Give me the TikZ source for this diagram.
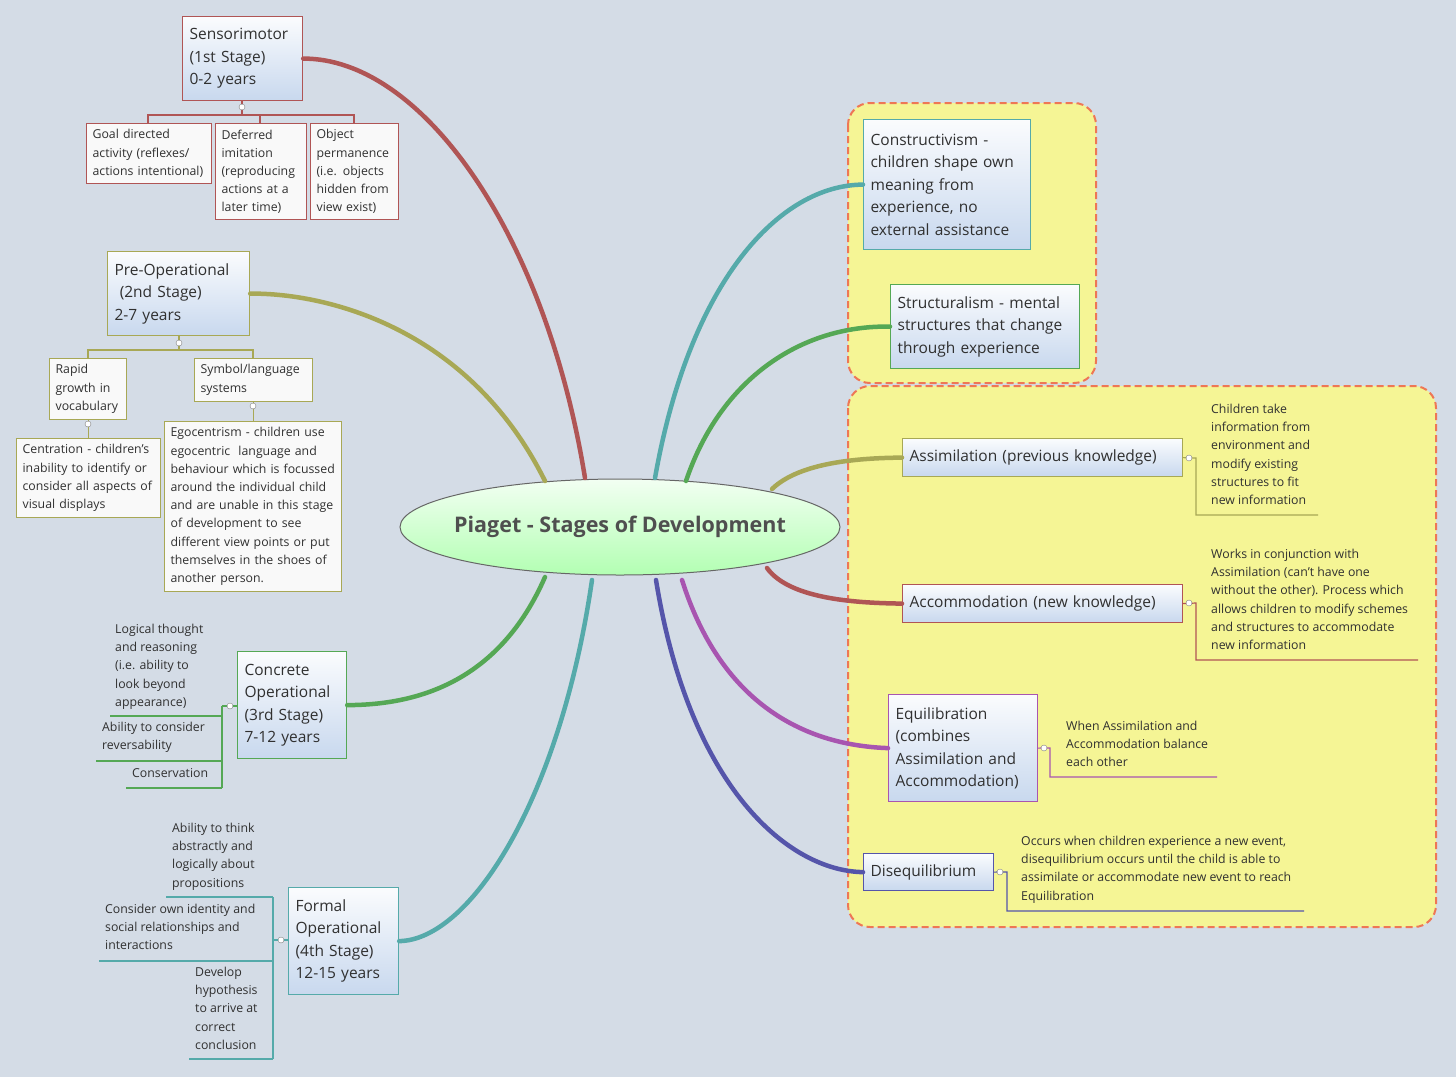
\documentclass[tikz,border=0pt]{standalone}
\usepackage{fontspec}
\setmainfont{Open Sans}
\usetikzlibrary{shapes.geometric}
\definecolor{bgc}{HTML}{D4DCE6}
\definecolor{cred}{HTML}{B05555}
\definecolor{colive}{HTML}{A8A855}
\definecolor{cgreen}{HTML}{55A855}
\definecolor{cteal}{HTML}{55AAAA}
\definecolor{cpurple}{HTML}{A855B0}
\definecolor{cblue}{HTML}{5555AA}
\definecolor{cloudf}{HTML}{F5F595}
\definecolor{cloudb}{HTML}{EE7755}
\definecolor{txt}{HTML}{303030}
\definecolor{boxb}{HTML}{C8D8EE}
\tikzset{
  big/.style={draw, line width=1.2pt, top color=white!92!boxb, bottom color=boxb, anchor=north west, align=left, inner sep=7pt, font=\fontsize{15.5}{22.5}\selectfont, text=txt},
  sm/.style={draw, line width=1.2pt, fill=white!95!gray, anchor=north west, align=left, inner sep=6pt, font=\fontsize{12.3}{18.2}\selectfont, text=txt},
  leaf/.style={anchor=north west, align=left, inner sep=0pt, font=\fontsize{12.3}{18.2}\selectfont, text=txt},
  branch/.style={line width=4.5pt, line cap=round},
  thin/.style={line width=1.2pt},
  knob/.style={circle, draw=gray, fill=white, inner sep=0pt, minimum size=6pt},
  cloud/.style={draw=cloudb, fill=cloudf, dashed, line width=2pt, dash pattern=on 7pt off 4pt, rounded corners=22pt}
}
\begin{document}
\begin{tikzpicture}[x=1pt,y=-1pt]
\fill[bgc] (0,0) rectangle (1456,1077);
\useasboundingbox (0,0) rectangle (1456,1077);
% clouds
\draw[cloud] (848,103) rectangle (1096,383);
\draw[cloud] (848,386) rectangle (1436,927);

% center
\node[ellipse, draw=gray!80!black, line width=1pt, top color=green!5!white, bottom color=green!30!white, minimum width=440pt, minimum height=96pt, inner sep=0pt] (c) at (620,527) {};
\node[font=\fontsize{21.5}{26}\selectfont\bfseries, text=txt!85!white] (ct) at (c.center) {Piaget - Stages of Development};

\coordinate (cR) at (585,478); \coordinate (cO) at (545,481);
\coordinate (cG) at (545,577); \coordinate (cT) at (592,580);
\coordinate (rT) at (655,478); \coordinate (rG) at (686,481);
\coordinate (rO) at (772,489); \coordinate (rR) at (767,568);
\coordinate (rP) at (682,580); \coordinate (rB) at (656,580);

% left stages
\node[big, draw=cred, minimum width=120pt, minimum height=84pt, text width=106pt] (s1) at (182,16) {Sensorimotor\\(1st Stage)\\0-2 years};
\node[sm, draw=cred, minimum width=125pt, minimum height=59pt, text width=113pt] (s1a) at (86,123) {Goal directed\\activity (reflexes/\\actions intentional)};
\node[sm, draw=cred, minimum width=91pt, minimum height=95pt, text width=79pt] (s1b) at (215,123) {Deferred\\imitation\\(reproducing\\actions at a\\later time)};
\node[sm, draw=cred, minimum width=88pt, minimum height=95pt, text width=76pt] (s1c) at (310,123) {Object\\permanence\\(i.e. objects\\hidden from\\view exist)};
\draw[thin, cred] (242,100) -- (242,115); \draw[thin,cred] (148,123) -- (148,115) -- (354,115) -- (354,123);
\draw[thin,cred] (260,115)--(260,123);
\node[knob] at (242,107) {};

\node[big, draw=colive, minimum width=142pt, minimum height=84pt, text width=128pt] (s2) at (107,251) {Pre-Operational\\ \ (2nd Stage)\\2-7 years};
\node[sm, draw=colive, minimum width=77pt, minimum height=58pt, text width=65pt] (s2a) at (49,358) {Rapid\\growth in\\vocabulary};
\node[sm, draw=colive, minimum width=118pt, minimum height=40pt, text width=106pt] (s2b) at (194,358) {Symbol/language\\systems};
\node[sm, draw=colive, minimum width=144pt, minimum height=78pt, text width=132pt] (s2c) at (16,438) {Centration - children's\\inability to identify or\\consider all aspects of\\visual displays};
\node[sm, draw=colive, minimum width=177pt, minimum height=166pt, text width=175pt, inner xsep=1pt] (s2d) at (164,421) {\hspace*{5pt}Egocentrism - children use\\\hspace*{5pt}egocentric \ language and\\\hspace*{5pt}behaviour which is focussed\\\hspace*{5pt}around the individual child\\\hspace*{5pt}and are unable in this stage\\\hspace*{5pt}of development to see\\\hspace*{5pt}different view points or put\\\hspace*{5pt}themselves in the shoes of\\\hspace*{5pt}another person.};
\draw[thin,colive] (179,335)--(179,350); \draw[thin,colive] (88,358)--(88,350)--(253,350)--(253,358);
\node[knob] at (179,343) {};
\draw[thin,colive] (s2a.south) -- (s2c.north -| s2a.south); \node[knob] at (88,424) {};
\draw[thin,colive] (s2b.south) -- (s2d.north -| s2b.south); \node[knob] at (253,406) {};

\node[big, draw=cgreen, minimum width=109pt, minimum height=107pt, text width=95pt] (s3) at (237,651) {Concrete\\Operational\\(3rd Stage)\\7-12 years};
\node[leaf] (l31) at (115,624) {Logical thought\\and reasoning\\(i.e. ability to\\look beyond\\appearance)};
\node[leaf] (l32) at (102,722) {Ability to consider\\reversability};
\node[leaf] (l33) at (132,768) {Conservation};
\draw[thin,cgreen] (110,716)--(222,716); \draw[thin,cgreen] (96,761)--(222,761); \draw[thin,cgreen] (126,788)--(222,788);
\draw[thin,cgreen] (222,706)--(222,788); \draw[thin,cgreen] (222,706)--(s3.west|-222,706);
\node[knob] at (230,706) {};

\node[big, draw=cteal, minimum width=110pt, minimum height=107pt, text width=96pt] (s4) at (288,887) {Formal\\Operational\\(4th Stage)\\12-15 years};
\node[leaf] (l41) at (172,823) {Ability to think\\abstractly and\\logically about\\propositions};
\node[leaf] (l42) at (105,904) {Consider own identity and\\social relationships and\\interactions};
\node[leaf] (l43) at (195,967) {Develop\\hypothesis\\to arrive at\\correct\\conclusion};
\draw[thin,cteal] (166,897)--(273,897); \draw[thin,cteal] (99,961)--(273,961); \draw[thin,cteal] (189,1059)--(273,1059);
\draw[thin,cteal] (273,897)--(273,1059); \draw[thin,cteal] (273,940)--(s4.west|-273,940);
\node[knob] at (281,940) {};

% right
\node[big, draw=cteal, minimum width=167pt, minimum height=130pt, text width=153pt] (r1) at (863,119) {Constructivism -\\children shape own\\meaning from\\experience, no\\external assistance};
\node[big, draw=cgreen, minimum width=189pt, minimum height=84pt, text width=175pt] (r2) at (890,284) {Structuralism - mental\\structures that change\\through experience};
\node[big, draw=colive, minimum width=280pt, minimum height=38pt, text width=266pt] (r3) at (902,438) {Assimilation (previous knowledge)};
\node[big, draw=cred, minimum width=280pt, minimum height=38pt, text width=266pt] (r4) at (902,584) {Accommodation (new knowledge)};
\node[big, draw=cpurple, minimum width=149pt, minimum height=107pt, text width=135pt] (r5) at (888,694) {Equilibration\\(combines\\Assimilation and\\Accommodation)};
\node[big, draw=cblue, minimum width=130pt, minimum height=37pt, text width=116pt] (r6) at (863,853) {Disequilibrium};

\node[leaf] (t3) at (1211,404) {Children take\\information from\\environment and\\modify existing\\structures to fit\\new information};
\draw[thin,colive] (r3.east)--(1196,458)--(1196,515)--(1318,515); \node[knob] at (1189,458) {};
\node[leaf] (t4) at (1211,549) {Works in conjunction with\\Assimilation (can't have one\\without the other). Process which\\allows children to modify schemes\\and structures to accommodate\\new information};
\draw[thin,cred] (r4.east)--(1196,603)--(1196,660)--(1418,660); \node[knob] at (1189,603) {};
\node[leaf] (t5) at (1066,721) {When Assimilation and\\Accommodation balance\\each other};
\draw[thin,cpurple] (r5.east)--(1050,748)--(1050,777)--(1217,777); \node[knob] at (1044,748) {};
\node[leaf] (t6) at (1021,836) {Occurs when children experience a new event,\\disequilibrium occurs until the child is able to\\assimilate or accommodate new event to reach\\Equilibration};
\draw[thin,cblue] (r6.east)--(1007,872)--(1007,911)--(1304,911); \node[knob] at (1000,872) {};

% branches
\draw[branch, cred] (cR) .. controls (545,230) and (420,58) .. (s1.east);
\draw[branch, colive] (cO) .. controls (470,330) and (330,293) .. (s2.east);
\draw[branch, cgreen] (cG) .. controls (500,680) and (420,705) .. (s3.east);
\draw[branch, cteal] (cT) .. controls (560,800) and (470,940) .. (s4.east);
\draw[branch, cteal] (rT) .. controls (690,280) and (780,185) .. (r1.west);
\draw[branch, cgreen] (rG) .. controls (720,380) and (800,325) .. (r2.west);
\draw[branch, colive] (rO) .. controls (800,462) and (860,458) .. (r3.west);
\draw[branch, cred] (rR) .. controls (790,600) and (860,603) .. (r4.west);
\draw[branch, cpurple] (rP) .. controls (720,700) and (800,745) .. (r5.west);
\draw[branch, cblue] (rB) .. controls (690,790) and (790,871) .. (r6.west);
\end{tikzpicture}
\end{document}
